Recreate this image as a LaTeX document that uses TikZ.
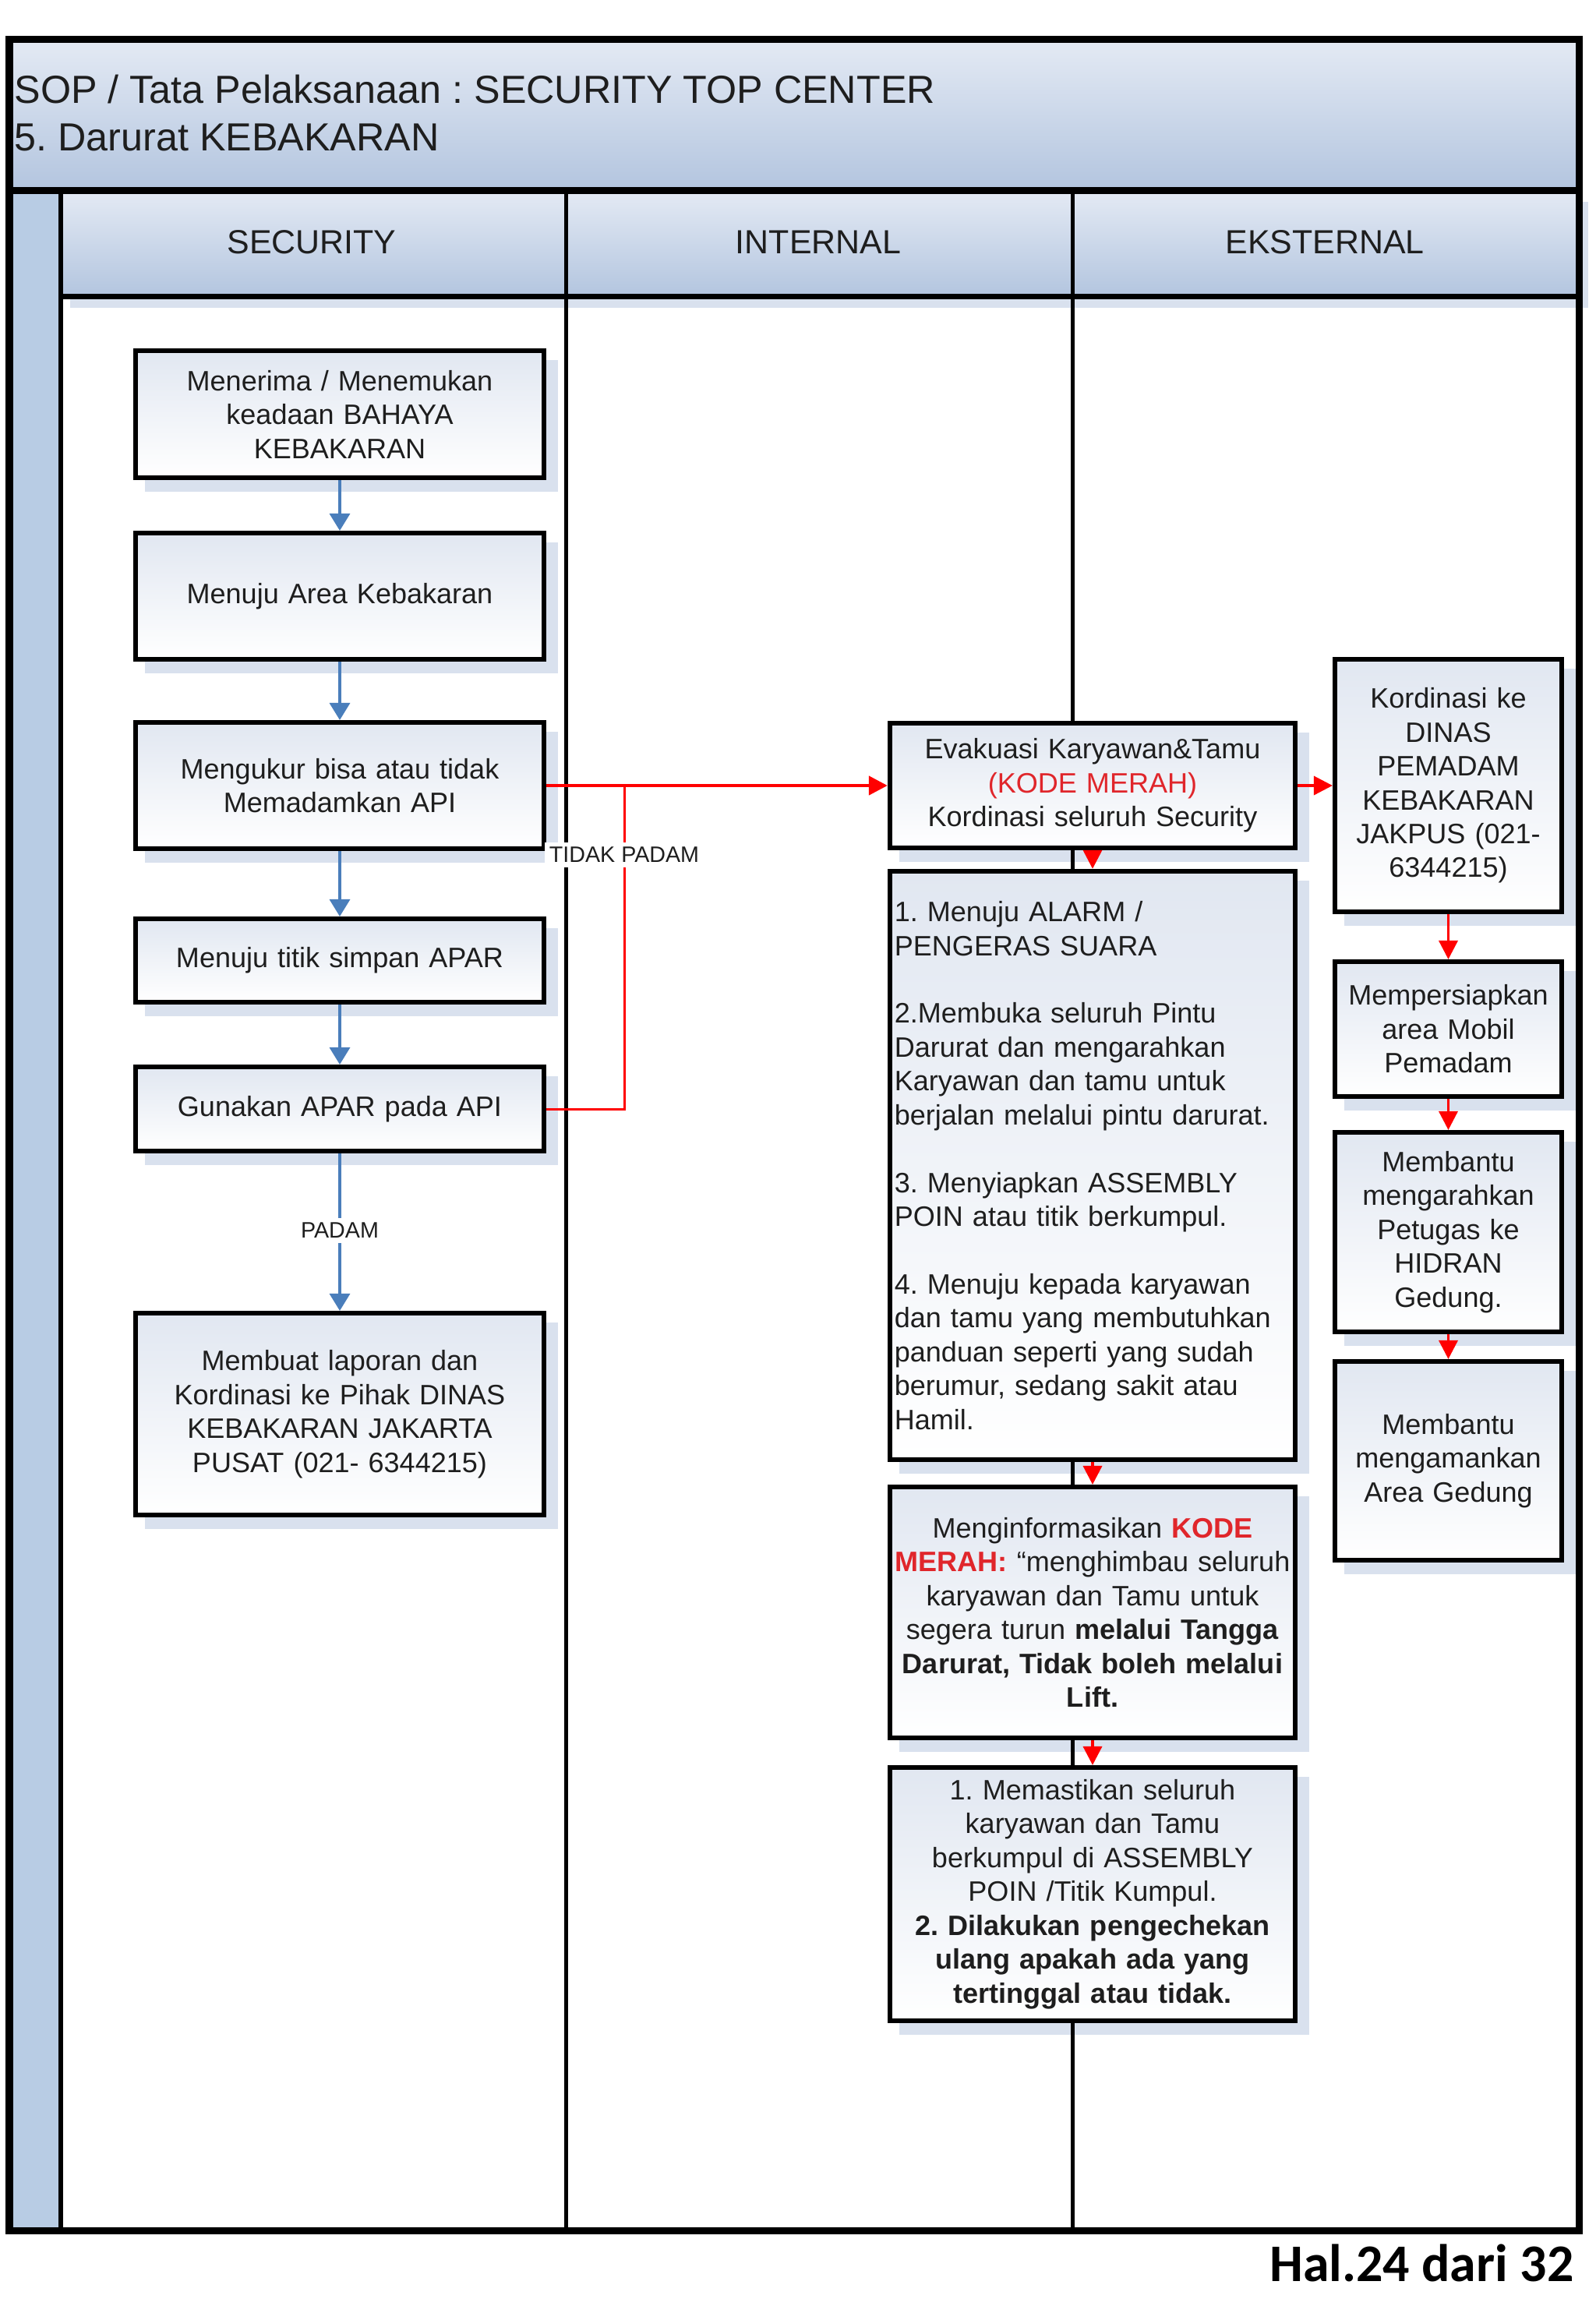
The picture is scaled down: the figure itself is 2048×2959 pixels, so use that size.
\documentclass[tikz,border=0pt]{standalone}
\usepackage{fontspec}
\setmainfont{Liberation Sans}
\newfontfamily\halfont{Carlito}
\usetikzlibrary{arrows.meta}
\pgfdeclarelayer{bg}
\pgfsetlayers{bg,main}
\frenchspacing
\definecolor{boxtop}{HTML}{E1E7F1}
\definecolor{shadowc}{HTML}{D9E1EE}
\definecolor{headlight}{HTML}{E4EAF4}
\definecolor{headdark}{HTML}{B3C5DF}
\definecolor{stripc}{HTML}{B8CCE4}
\definecolor{bluearr}{HTML}{4A7EBB}
\definecolor{kodered}{HTML}{E0262B}
\definecolor{txtc}{HTML}{1E1E1E}
\newcommand\bxfont{\fontsize{10.25pt}{12.35pt}\selectfont}
\newcommand\ttlfont{\fontsize{14.3pt}{17.4pt}\selectfont}
\newcommand\hdfont{\fontsize{12.2pt}{14.6pt}\selectfont}
\newcommand\lblfont{\fontsize{8.15pt}{9.8pt}\selectfont}
\begin{document}
\begin{tikzpicture}[x=0.01cm,y=-0.01cm,
  every node/.style={inner sep=0pt,font=\bxfont,text=txtc},
  secbox/.style={draw=black,line width=0.06cm,top color=boxtop,bottom color=white,minimum width=5.24cm,text width=5.1cm,align=center},
  intbox/.style={secbox,minimum width=5.2cm,text width=5.16cm},
  eksbox/.style={secbox,minimum width=2.91cm,text width=2.85cm},
  head/.style={font=\hdfont},
  lbl/.style={font=\lblfont,fill=white,inner sep=0.06cm},
  bluearrow/.style={draw=bluearr,line width=0.035cm,-{Triangle[length=0.22cm,width=0.26cm]}},
  redarrow/.style={draw=red,line width=0.035cm,-{Triangle[length=0.24cm,width=0.24cm]}},
  redline/.style={draw=red,line width=0.03cm},
  lane/.style={draw=black,line width=0.05cm}]
  \useasboundingbox (0,0) rectangle (2048,2959);
  \node[anchor=base west,font=\ttlfont] (title) at (18,132) {SOP / Tata Pelaksanaan : SECURITY TOP CENTER};
  \node[anchor=base west,font=\ttlfont] (subtitle) at (18,193) {5. Darurat KEBAKARAN};
  \node[head] (sechead) at (400,311) {SECURITY};
  \node[head] (inthead) at (1050,311) {INTERNAL};
  \node[head] (ekshead) at (1700,311) {EKSTERNAL};
  \node[secbox,minimum height=1.63cm] (terima) at (436,531.5) {Menerima / Menemukan\\keadaan BAHAYA\\KEBAKARAN};
  \node[secbox,minimum height=1.62cm] (area) at (436,765) {Menuju Area Kebakaran};
  \node[secbox,minimum height=1.62cm] (ukur) at (436,1008) {Mengukur bisa atau tidak\\Memadamkan API};
  \node[secbox,minimum height=1.07cm] (titik) at (436,1232.5) {Menuju titik simpan APAR};
  \node[secbox,minimum height=1.08cm] (gunakan) at (436,1423) {Gunakan APAR pada API};
  \node[secbox,minimum height=2.59cm] (lapor) at (436,1814.5) {Membuat laporan dan\\Kordinasi ke Pihak DINAS\\KEBAKARAN JAKARTA\\PUSAT (021- 6344215)};
  \node[intbox,minimum height=1.59cm] (evak) at (1402,1008) {Evakuasi Karyawan\&Tamu\\{\color{kodered}(KODE MERAH)}\\Kordinasi seluruh Security};
  \node[intbox,align=left,text width=5.08cm,minimum height=7.55cm] (alarm) at (1402,1495.5) {1. Menuju ALARM /\\PENGERAS SUARA\\[12.35pt]2.Membuka seluruh Pintu\\Darurat dan mengarahkan\\Karyawan dan tamu untuk\\berjalan melalui pintu darurat.\\[12.35pt]3. Menyiapkan ASSEMBLY\\POIN atau titik berkumpul.\\[12.35pt]4. Menuju kepada karyawan\\dan tamu yang membutuhkan\\panduan seperti yang sudah\\berumur, sedang sakit atau\\Hamil.};
  \node[intbox,minimum height=3.22cm] (info) at (1402,2069) {Menginformasikan {\color{kodered}\bfseries KODE}\\{\color{kodered}\bfseries MERAH:} “menghimbau seluruh\\karyawan dan Tamu untuk\\segera turun \textbf{melalui Tangga}\\\textbf{Darurat, Tidak boleh melalui}\\\textbf{Lift.}};
  \node[intbox,minimum height=3.25cm] (pasti) at (1402,2430.5) {1. Memastikan seluruh\\karyawan dan Tamu\\berkumpul di ASSEMBLY\\POIN /Titik Kumpul.\\\textbf{2. Dilakukan pengechekan}\\\textbf{ulang apakah ada yang}\\\textbf{tertinggal atau tidak.}};
  \node[eksbox,minimum height=3.23cm] (kord) at (1858.5,1008) {Kordinasi ke\\DINAS\\PEMADAM\\KEBAKARAN\\JAKPUS (021-\\6344215)};
  \node[eksbox,minimum height=1.73cm] (siap) at (1858.5,1320.5) {Mempersiapkan\\area Mobil\\Pemadam};
  \node[eksbox,minimum height=2.56cm] (bantu) at (1858.5,1581) {Membantu\\mengarahkan\\Petugas ke\\HIDRAN\\Gedung.};
  \node[eksbox,minimum height=2.55cm] (aman) at (1858.5,1874.5) {Membantu\\mengamankan\\Area Gedung};
  \draw[bluearrow] (terima) -- (area);
  \draw[bluearrow] (area) -- (ukur);
  \draw[bluearrow] (ukur) -- (titik);
  \draw[bluearrow] (titik) -- (gunakan);
  \draw[bluearrow] (gunakan) -- (lapor);
  \draw[redarrow,line width=0.045cm] (ukur) -- (evak);
  \coordinate (tidak) at (801,1008);
  \draw[redline] (gunakan.east) -| (tidak);
  \draw[redarrow] (evak) -- (kord);
  \draw[redarrow] (evak) -- (alarm);
  \draw[redarrow] (alarm) -- (info);
  \draw[redarrow] (info) -- (pasti);
  \draw[redarrow] (kord) -- (siap);
  \draw[redarrow] (siap) -- (bantu);
  \draw[redarrow] (bantu) -- (aman);
  \node[lbl] (padam) at (436,1579) {PADAM};
  \node[lbl] (tidakpadam) at (801,1097) {TIDAK PADAM};
  \node[anchor=base east,font=\halfont\bfseries\fontsize{19.3pt}{23pt}\selectfont,text=black] (hal) at (2020,2927) {Hal.24 dari 32};
  \begin{pgfonlayer}{bg}
    \fill[white] (0,0) rectangle (2048,2959);
    \shade[top color=headlight,bottom color=headdark] (12,50) rectangle (2026,244);
    \fill[stripc] (12,244) rectangle (78,2862);
    \foreach \xa/\xb in {78/726,726/1376,1376/2026}{
      \fill[shadowc] (\xa+12,259) rectangle (\xb+12,395);
      \shade[top color=headlight,bottom color=headdark] (\xa,244) rectangle (\xb,380);
    }
    \foreach \n in {terima,area,ukur,titik,gunakan,lapor,evak,alarm,info,pasti,kord,siap,bantu,aman}
      \fill[shadowc] ([shift={(15,15)}]\n.south west) rectangle ([shift={(15,15)}]\n.north east);
    \draw[lane] (78,244) -- (78,2862);
    \draw[lane] (726,244) -- (726,2862);
    \draw[lane] (1376,244) -- (1376,2862);
    \draw[black,line width=0.07cm] (78,380) -- (2026,380);
    \draw[black,line width=0.09cm] (12,244) -- (2026,244);
    \draw[black,line width=0.09cm] (12,50) rectangle (2026,2862);
  \end{pgfonlayer}
\end{tikzpicture}
\end{document}
